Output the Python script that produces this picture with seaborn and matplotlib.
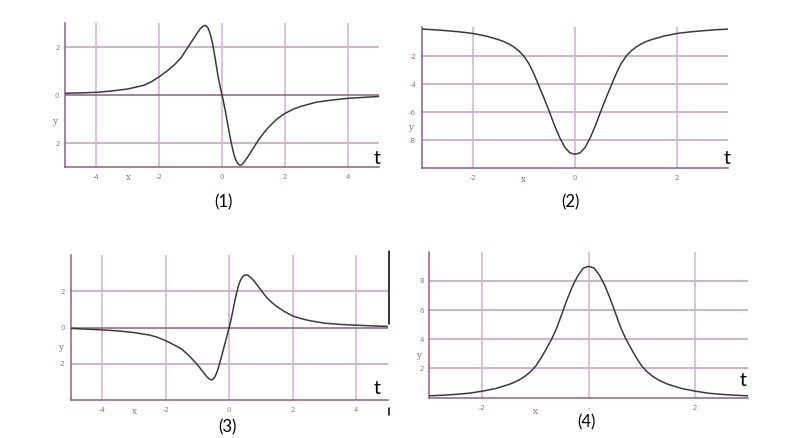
import matplotlib
matplotlib.use("Agg")
import matplotlib.pyplot as plt
import seaborn as sns
import pandas as pd
from matplotlib.lines import Line2D

# values
x1 = [-5, -4.5, -4, -3.5, -3, -2.5, -2.25, -2, -1.75, -1.5, -1.3, -1.2, -1.1, -1.0, -0.9, -0.8,
      -0.7, -0.6, -0.55, -0.5, -0.45, -0.4, -0.35, -0.3, -0.25, -0.2, -0.15, -0.1, -0.05, 0,
      0.05, 0.1, 0.15, 0.2, 0.25, 0.3, 0.35, 0.4, 0.45, 0.5, 0.55, 0.6, 0.65, 0.7, 0.8, 0.9,
      1.0, 1.1, 1.2, 1.35, 1.5, 1.75, 2.0, 2.25, 2.5, 3, 3.5, 4, 4.5, 5]
y1 = [0.07, 0.09, 0.11, 0.17, 0.25, 0.40, 0.55, 0.76, 1.00, 1.28, 1.56, 1.76, 1.96, 2.16, 2.36,
      2.56, 2.75, 2.87, 2.90, 2.88, 2.80, 2.64, 2.42, 2.14, 1.78, 1.38, 0.97, 0.60, 0.28, 0,
      -0.30, -0.62, -0.98, -1.35, -1.70, -2.02, -2.32, -2.56, -2.74, -2.85, -2.91, -2.92, -2.88,
      -2.80, -2.62, -2.42, -2.21, -2.00, -1.80, -1.55, -1.32, -1.00, -0.77, -0.60, -0.48, -0.30,
      -0.21, -0.14, -0.10, -0.06]

x2 = [-3, -2.75, -2.5, -2.25, -2, -1.75, -1.5, -1.4, -1.3, -1.2, -1.1, -1.0, -0.9, -0.8, -0.7,
      -0.6, -0.5, -0.4, -0.3, -0.2, -0.1, 0, 0.1, 0.2, 0.3, 0.4, 0.5, 0.6, 0.7, 0.8, 0.9, 1.0,
      1.1, 1.2, 1.3, 1.4, 1.5, 1.75, 2, 2.25, 2.5, 2.75, 3]
y2 = [-0.07, -0.12, -0.19, -0.27, -0.38, -0.56, -0.82, -0.95, -1.12, -1.34, -1.62, -2.00,
      -2.55, -3.30, -4.17, -5.05, -5.98, -6.95, -7.80, -8.50, -8.90, -9.0, -8.90, -8.50, -7.80,
      -6.95, -5.98, -5.05, -4.17, -3.30, -2.55, -2.00, -1.62, -1.34, -1.12, -0.95, -0.82, -0.56,
      -0.38, -0.27, -0.19, -0.12, -0.07]

x3 = [-5, -4.5, -4, -3.5, -3, -2.5, -2.25, -2, -1.75, -1.5, -1.3, -1.2, -1.1, -1.0, -0.9, -0.8,
      -0.7, -0.6, -0.55, -0.5, -0.45, -0.4, -0.35, -0.3, -0.25, -0.2, -0.15, -0.1, -0.05, 0,
      0.05, 0.1, 0.15, 0.2, 0.25, 0.3, 0.35, 0.4, 0.45, 0.5, 0.55, 0.6, 0.7, 0.8, 0.9, 1.0,
      1.1, 1.2, 1.35, 1.5, 1.75, 2, 2.25, 2.5, 3, 3.5, 4, 4.5, 5]
y3 = [-0.05, -0.09, -0.13, -0.19, -0.28, -0.42, -0.55, -0.73, -0.95, -1.19, -1.50, -1.68, -1.87,
      -2.06, -2.28, -2.51, -2.73, -2.87, -2.89, -2.84, -2.72, -2.52, -2.27, -1.97, -1.65, -1.32,
      -0.99, -0.66, -0.33, 0, 0.38, 0.79, 1.22, 1.65, 2.02, 2.35, 2.58, 2.75, 2.85, 2.90, 2.90,
      2.87, 2.73, 2.53, 2.30, 2.07, 1.84, 1.62, 1.37, 1.16, 0.87, 0.64, 0.50, 0.39, 0.24, 0.17,
      0.13, 0.09, 0.06]

x4 = [-3, -2.75, -2.5, -2.25, -2, -1.75, -1.5, -1.4, -1.3, -1.2, -1.1, -1.0, -0.9, -0.8, -0.7,
      -0.6, -0.5, -0.4, -0.3, -0.2, -0.1, 0, 0.1, 0.2, 0.3, 0.4, 0.5, 0.6, 0.7, 0.8, 0.9, 1.0,
      1.1, 1.2, 1.3, 1.4, 1.5, 1.75, 2, 2.25, 2.5, 2.75, 3]
y4 = [0.12, 0.16, 0.22, 0.30, 0.44, 0.62, 0.90, 1.05, 1.23, 1.46, 1.76, 2.15, 2.70, 3.33, 4.00,
      4.80, 5.80, 6.80, 7.69, 8.39, 8.88, 9.0, 8.88, 8.39, 7.69, 6.80, 5.80, 4.80, 4.00, 3.33,
      2.70, 2.15, 1.76, 1.46, 1.23, 1.05, 0.90, 0.62, 0.44, 0.30, 0.22, 0.16, 0.12]

panel_labels = ["(1)", "(2)", "(3)", "(4)"]
xticks1 = [-4, -2, 0, 2, 4]
yticks1 = [-2, 0, 2]
ytlabels1 = ["2", "0", "2"]
xticks2 = [-2, 0, 2]
yticks2 = [-8, -6, -4, -2]
xticks3 = [-4, -2, 0, 2, 4]
yticks3 = [-2, 0, 2]
xticks4 = [-2, 0, 2]
xtlabels4 = ["-2", "-", "2"]
yticks4 = [2, 4, 6, 8]

W, H = 805, 438
AXIS = "#8f5c8c"
VGRID = "#dcc2dc"
HGRID = "#d3b1d3"
TICK = "#9a6e98"

sns.set_style("white")
plt.rcParams["font.family"] = ["DejaVu Sans"]

fig = plt.figure(figsize=(W / 100, H / 100), dpi=100)


def px_axes(left, top, right, bottom):
    return fig.add_axes([left / W, 1 - bottom / H, (right - left) / W, (bottom - top) / H])


def ftext(x, y, s, **kw):
    fig.text(x / W, 1 - y / H, s, ha="center", va="center", **kw)


def style(ax, xlim, ylim, xticks, yticks, xtl=None, ytl=None, zero_line=False):
    ax.set_xlim(*xlim)
    ax.set_ylim(*ylim)
    for v in xticks:
        ax.axvline(v, color=VGRID, lw=1.44, zorder=0, snap=True)
    for v in yticks:
        if zero_line and v == 0:
            ax.axhline(0, color=AXIS, lw=1.1, zorder=1)
        else:
            ax.axhline(v, color=HGRID, lw=1.44, zorder=0, snap=True)
    ax.set_xticks(xticks)
    ax.set_yticks(yticks)
    ax.set_xticklabels(xtl if xtl is not None else [str(v) for v in xticks])
    ax.set_yticklabels(ytl if ytl is not None else [str(v) for v in yticks])
    ax.tick_params(axis="both", length=3, width=0.8, color=AXIS, labelsize=5,
                   labelcolor=TICK, pad=2, direction="out")
    ax.tick_params(axis="y", length=2)
    for s in ["top", "right"]:
        ax.spines[s].set_visible(False)
    for s in ["left", "bottom"]:
        ax.spines[s].set_color(AXIS)
        ax.spines[s].set_linewidth(1.1)
    ax.set_xlabel("")
    ax.set_ylabel("")
    ax.set_facecolor("none")
    if ax.get_legend():
        ax.get_legend().remove()


curves = [
    (pd.DataFrame({"x": x1, "y": y1}), (65, 23, 379, 167), (-5, 5), (-3, 3), xticks1, yticks1, None, ytlabels1, True),
    (pd.DataFrame({"x": x2, "y": y2}), (421.7, 26.7, 728.3, 168.3), (-3, 3), (-10, 0.1), xticks2, yticks2, None, None, False),
    (pd.DataFrame({"x": x3, "y": y3}), (70.7, 255, 387.7, 400), (-5, 5), (-4, 4), xticks3, yticks3, None, None, True),
    (pd.DataFrame({"x": x4, "y": y4}), (429.3, 251.7, 748.3, 398.3), (-3, 3), (-0.05, 10), xticks4, yticks4, xtlabels4, None, False),
]

for df, box, xl, yl, xt, yt, xtl, ytl, zl in curves:
    ax = px_axes(*box)
    sns.lineplot(data=df, x="x", y="y", ax=ax, color="#3a3a3a", lw=1.1, zorder=3)
    style(ax, xl, yl, xt, yt, xtl, ytl, zero_line=zl)

# axis letters
xy_font = dict(family="DejaVu Serif", fontsize=6.5, color=TICK)
for pos in [(128, 178), (523, 180), (134, 412), (535, 412)]:
    ftext(*pos, "x", **xy_font)
for pos in [(55, 121), (411, 127), (61, 347), (419, 356)]:
    ftext(*pos, "y", **xy_font)
for pos in [(377, 159), (727, 159), (377, 389), (743, 381)]:
    ftext(*pos, "t", fontsize=14, color="black", family="Lato")
for pos, lab in zip([(223, 202), (570, 202), (227, 427), (586, 422)], panel_labels):
    ftext(*pos, lab, fontsize=12, color="black", family="Lato")

# stray black strokes at the right of panel 3
fig.add_artist(Line2D([389 / W, 389 / W], [1 - 250.7 / H, 1 - 324 / H], color="black", lw=1.1))
fig.add_artist(Line2D([389 / W, 389 / W], [1 - 408 / H, 1 - 415 / H], color="black", lw=1.1))

fig.savefig("out.png", dpi=100)
